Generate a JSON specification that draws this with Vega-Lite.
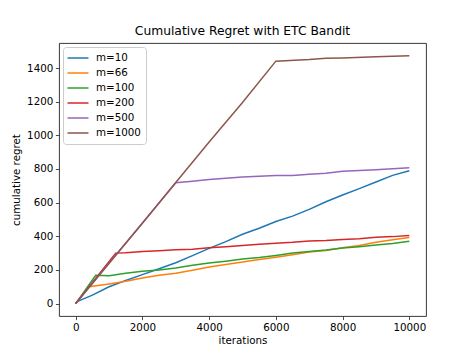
{
  "$schema": "https://vega.github.io/schema/vega-lite/v6.json",
  "width": 367,
  "height": 273,
  "autosize": {"type": "none"},
  "padding": {"left": 59, "top": 43, "right": 48, "bottom": 39},
  "background": "white",
  "title": {"text": "Cumulative Regret with ETC Bandit", "font": "DejaVu Sans", "fontSize": 12.3, "fontWeight": "normal", "color": "#000", "offset": 6},
  "config": {
    "view": {"stroke": "#222", "strokeWidth": 0.9},
    "axis": {"domain": false, "grid": false, "tickColor": "#222", "tickSize": 3.6, "tickWidth": 0.8, "labelFont": "DejaVu Sans", "labelFontSize": 10.3, "labelColor": "#000", "labelPadding": 2.6, "titleFont": "DejaVu Sans", "titleFontSize": 10.3, "titleFontWeight": "normal", "titleColor": "#000"}
  },
  "data": {"values": [
    {"m": "m=10", "x": 0, "y": 0}, {"m": "m=10", "x": 60, "y": 13}, {"m": "m=10", "x": 500, "y": 50}, {"m": "m=10", "x": 1000, "y": 100}, {"m": "m=10", "x": 1500, "y": 137}, {"m": "m=10", "x": 2000, "y": 172}, {"m": "m=10", "x": 2500, "y": 207}, {"m": "m=10", "x": 3000, "y": 243}, {"m": "m=10", "x": 3500, "y": 285}, {"m": "m=10", "x": 4000, "y": 328}, {"m": "m=10", "x": 4500, "y": 368}, {"m": "m=10", "x": 5000, "y": 412}, {"m": "m=10", "x": 5500, "y": 448}, {"m": "m=10", "x": 6000, "y": 488}, {"m": "m=10", "x": 6500, "y": 520}, {"m": "m=10", "x": 7000, "y": 560}, {"m": "m=10", "x": 7500, "y": 605}, {"m": "m=10", "x": 8000, "y": 645}, {"m": "m=10", "x": 8500, "y": 683}, {"m": "m=10", "x": 9000, "y": 723}, {"m": "m=10", "x": 9500, "y": 762}, {"m": "m=10", "x": 10000, "y": 790},
    {"m": "m=66", "x": 0, "y": 0}, {"m": "m=66", "x": 396, "y": 100}, {"m": "m=66", "x": 1000, "y": 117}, {"m": "m=66", "x": 1500, "y": 133}, {"m": "m=66", "x": 2000, "y": 152}, {"m": "m=66", "x": 2500, "y": 168}, {"m": "m=66", "x": 3000, "y": 181}, {"m": "m=66", "x": 3500, "y": 198}, {"m": "m=66", "x": 4000, "y": 217}, {"m": "m=66", "x": 4500, "y": 232}, {"m": "m=66", "x": 5000, "y": 247}, {"m": "m=66", "x": 5500, "y": 262}, {"m": "m=66", "x": 6000, "y": 276}, {"m": "m=66", "x": 6500, "y": 290}, {"m": "m=66", "x": 7000, "y": 306}, {"m": "m=66", "x": 7500, "y": 316}, {"m": "m=66", "x": 8000, "y": 332}, {"m": "m=66", "x": 8500, "y": 345}, {"m": "m=66", "x": 9000, "y": 365}, {"m": "m=66", "x": 9500, "y": 380}, {"m": "m=66", "x": 10000, "y": 393},
    {"m": "m=100", "x": 0, "y": 0}, {"m": "m=100", "x": 600, "y": 168}, {"m": "m=100", "x": 1000, "y": 166}, {"m": "m=100", "x": 1500, "y": 180}, {"m": "m=100", "x": 2000, "y": 192}, {"m": "m=100", "x": 2500, "y": 200}, {"m": "m=100", "x": 3000, "y": 212}, {"m": "m=100", "x": 3500, "y": 228}, {"m": "m=100", "x": 4000, "y": 241}, {"m": "m=100", "x": 4500, "y": 252}, {"m": "m=100", "x": 5000, "y": 265}, {"m": "m=100", "x": 5500, "y": 274}, {"m": "m=100", "x": 6000, "y": 286}, {"m": "m=100", "x": 6500, "y": 300}, {"m": "m=100", "x": 7000, "y": 310}, {"m": "m=100", "x": 7500, "y": 318}, {"m": "m=100", "x": 8000, "y": 330}, {"m": "m=100", "x": 8500, "y": 338}, {"m": "m=100", "x": 9000, "y": 348}, {"m": "m=100", "x": 9500, "y": 357}, {"m": "m=100", "x": 10000, "y": 370},
    {"m": "m=200", "x": 0, "y": 0}, {"m": "m=200", "x": 1200, "y": 300}, {"m": "m=200", "x": 1500, "y": 302}, {"m": "m=200", "x": 2000, "y": 310}, {"m": "m=200", "x": 2500, "y": 314}, {"m": "m=200", "x": 3000, "y": 320}, {"m": "m=200", "x": 3500, "y": 323}, {"m": "m=200", "x": 4000, "y": 332}, {"m": "m=200", "x": 4500, "y": 338}, {"m": "m=200", "x": 5000, "y": 345}, {"m": "m=200", "x": 5500, "y": 353}, {"m": "m=200", "x": 6000, "y": 359}, {"m": "m=200", "x": 6500, "y": 364}, {"m": "m=200", "x": 7000, "y": 372}, {"m": "m=200", "x": 7500, "y": 375}, {"m": "m=200", "x": 8000, "y": 381}, {"m": "m=200", "x": 8500, "y": 386}, {"m": "m=200", "x": 9000, "y": 394}, {"m": "m=200", "x": 9500, "y": 398}, {"m": "m=200", "x": 10000, "y": 405},
    {"m": "m=500", "x": 0, "y": 0}, {"m": "m=500", "x": 3000, "y": 718}, {"m": "m=500", "x": 3500, "y": 727}, {"m": "m=500", "x": 4000, "y": 738}, {"m": "m=500", "x": 5000, "y": 752}, {"m": "m=500", "x": 6000, "y": 762}, {"m": "m=500", "x": 6500, "y": 762}, {"m": "m=500", "x": 7000, "y": 768}, {"m": "m=500", "x": 7500, "y": 775}, {"m": "m=500", "x": 8000, "y": 786}, {"m": "m=500", "x": 9000, "y": 795}, {"m": "m=500", "x": 10000, "y": 807},
    {"m": "m=1000", "x": 0, "y": 0}, {"m": "m=1000", "x": 1000, "y": 240}, {"m": "m=1000", "x": 2000, "y": 478}, {"m": "m=1000", "x": 3000, "y": 720}, {"m": "m=1000", "x": 4000, "y": 960}, {"m": "m=1000", "x": 5000, "y": 1195}, {"m": "m=1000", "x": 6000, "y": 1441}, {"m": "m=1000", "x": 7000, "y": 1450}, {"m": "m=1000", "x": 7500, "y": 1458}, {"m": "m=1000", "x": 8000, "y": 1460}, {"m": "m=1000", "x": 9000, "y": 1467}, {"m": "m=1000", "x": 10000, "y": 1473}
  ]},
  "mark": {"type": "line", "strokeWidth": 1.5, "clip": true},
  "encoding": {
    "x": {"field": "x", "type": "quantitative", "scale": {"domain": [-500, 10500], "nice": false, "zero": false}, "axis": {"values": [0, 2000, 4000, 6000, 8000, 10000], "format": "d", "title": "iterations", "titlePadding": 3}},
    "y": {"field": "y", "type": "quantitative", "scale": {"domain": [-73.75, 1548.75], "nice": false, "zero": false}, "axis": {"values": [0, 200, 400, 600, 800, 1000, 1200, 1400], "format": "d", "title": "cumulative regret", "titlePadding": 5}},
    "color": {"field": "m", "type": "nominal", "sort": ["m=10", "m=66", "m=100", "m=200", "m=500", "m=1000"],
      "scale": {"domain": ["m=10", "m=66", "m=100", "m=200", "m=500", "m=1000"], "range": ["#1f77b4", "#ff7f0e", "#2ca02c", "#d62728", "#9467bd", "#8c564b"]},
      "legend": {"title": null, "orient": "top-left", "offset": 4, "padding": 5, "symbolType": "M-2,0H2", "symbolSize": 110, "symbolOffset": 4, "symbolStrokeWidth": 1.5, "labelFont": "DejaVu Sans", "labelFontSize": 10.3, "labelColor": "#000", "labelOffset": 12, "rowPadding": 3, "strokeColor": "#cccccc", "cornerRadius": 3, "fillColor": "rgba(255,255,255,0.8)"}}
  }
}
